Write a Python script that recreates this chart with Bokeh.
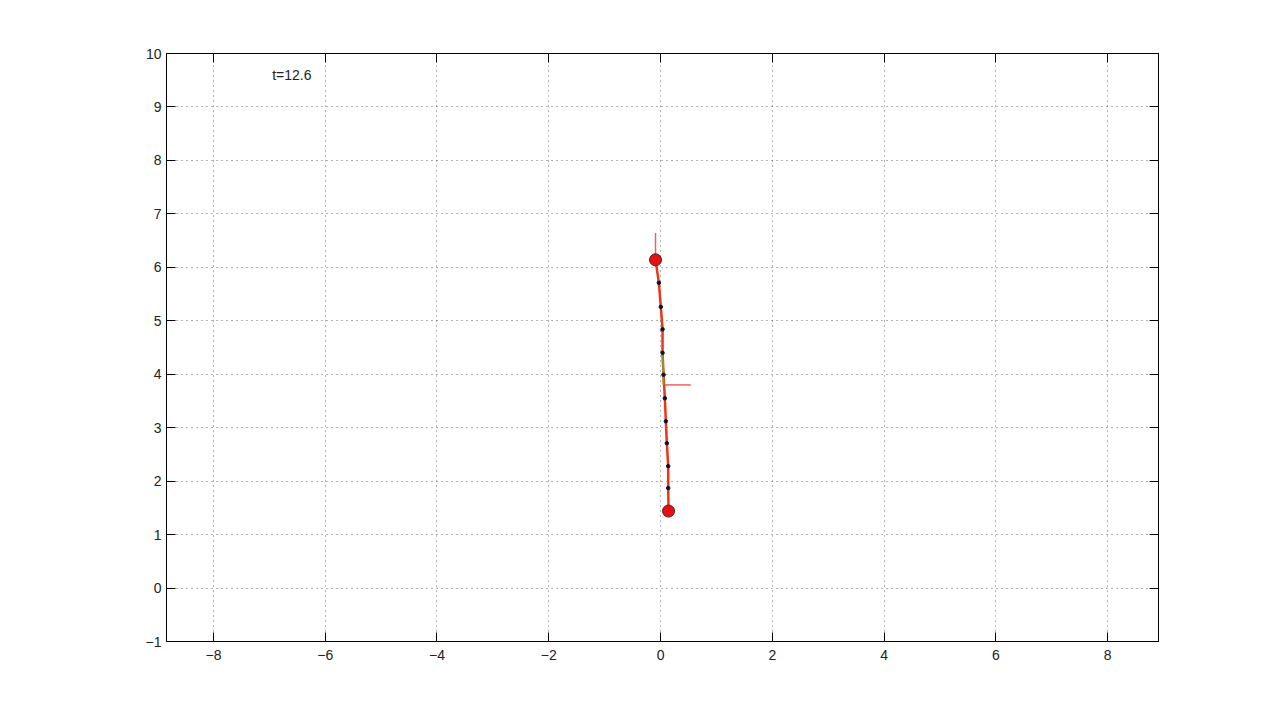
from bokeh.plotting import figure
from bokeh.models import Range1d, LinearAxis, FixedTicker, Label
from bokeh.embed import file_html
from bokeh.resources import INLINE

# chain node positions (data units)
node_x = [0.143, 0.137, 0.137, 0.113, 0.095, 0.077, 0.054, 0.036, 0.036, 0.005, -0.03, -0.09]
node_y = [1.44, 1.87, 2.28, 2.71, 3.12, 3.55, 3.99, 4.40, 4.84, 5.26, 5.71, 6.14]
inner_x = node_x[1:-1]
inner_y = node_y[1:-1]
end_x = [node_x[0], node_x[-1]]
end_y = [node_y[0], node_y[-1]]
# short green segment
green_x = [0.054, 0.036]
green_y = [3.80, 4.40]
# force indicators
fx_h = [0.05, 0.54]
fy_h = [3.80, 3.80]
fx_v = [-0.09, -0.09]
fy_v = [6.14, 6.64]
x_ticks = [-8, -6, -4, -2, 0, 2, 4, 6, 8]
y_ticks = [-1, 0, 1, 2, 3, 4, 5, 6, 7, 8, 9, 10]
time_label = "t=12.6"

FONT = "Liberation Sans"

p = figure(width=1264, height=704, output_backend="svg", toolbar_location=None,
           x_range=Range1d(-8.84, 8.91), y_range=Range1d(-1, 10),
           min_border_left=166, min_border_right=106, min_border_top=53, min_border_bottom=63)
p.outline_line_color = "black"
p.outline_line_width = 1

for ax in p.xaxis:
    ax.ticker = FixedTicker(ticks=x_ticks)
for ax in p.yaxis:
    ax.ticker = FixedTicker(ticks=y_ticks)

def style_axis(ax, labels=True):
    ax.axis_line_color = "black"
    ax.major_tick_in = 9
    ax.major_tick_out = 0
    ax.minor_tick_in = 0
    ax.minor_tick_out = 0
    ax.major_tick_line_color = "black"
    ax.major_label_text_font = FONT
    ax.major_label_text_font_size = "14px"
    ax.major_label_text_color = "#222222"
    if not labels:
        ax.major_label_text_alpha = 0
        ax.major_label_text_font_size = "1px"

for ax in p.xaxis:
    style_axis(ax)
    ax.major_label_standoff = 8
for ax in p.yaxis:
    style_axis(ax)
    ax.major_label_standoff = 5

right = LinearAxis(ticker=FixedTicker(ticks=y_ticks))
style_axis(right, labels=False)
p.add_layout(right, "right")
top = LinearAxis(ticker=FixedTicker(ticks=x_ticks))
style_axis(top, labels=False)
p.add_layout(top, "above")

p.xgrid.ticker = FixedTicker(ticks=x_ticks)
p.ygrid.ticker = FixedTicker(ticks=y_ticks)
for g in (p.xgrid, p.ygrid):
    g.grid_line_color = "#333333"
    g.grid_line_dash = "1 4"
    g.grid_line_width = 1
    g.grid_line_alpha = 0.75

p.line(fx_h, fy_h, line_color="#f06060", line_width=1.5)
p.line(fx_v, fy_v, line_color="#f06060", line_width=1.5)
p.line(node_x, node_y, line_color="#f03418", line_width=2.5)
p.line(green_x, green_y, line_color="#8a9a20", line_width=2)
p.scatter(inner_x, inner_y, size=3.5, color="#101030")
p.scatter(end_x, end_y, size=12, fill_color="#e81010", line_color="#502020", line_width=1)

p.add_layout(Label(x=-6.95, y=9.6, text=time_label, text_font=FONT, text_font_size="14px",
                   text_color="#222222", text_baseline="middle", text_align="left"))

open("out.html", "w").write(file_html(p, INLINE))
